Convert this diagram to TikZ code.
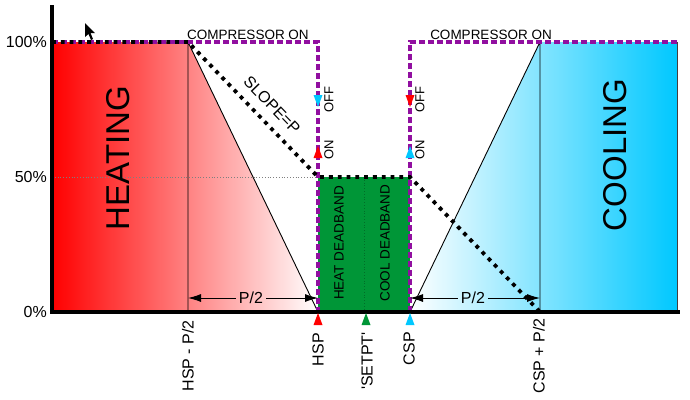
\documentclass[tikz,border=0pt]{standalone}
\usepackage{fontspec}
\setmainfont{Liberation Sans}
\usetikzlibrary{arrows.meta,positioning}
\definecolor{tsred}{RGB}{255,0,0}
\definecolor{tscyan}{RGB}{0,200,255}
\definecolor{tsgreen}{RGB}{0,150,55}
\definecolor{tsdkgreen}{RGB}{0,110,40}
\definecolor{tspurple}{RGB}{145,15,160}
\definecolor{tsgray}{RGB}{127,127,127}
\definecolor{tsdark}{RGB}{70,60,60}
\tikzset{
  purpdash/.style={tspurple,line width=3.2pt,dash pattern=on 6pt off 3pt},
  outdots/.style={black,line width=3.8pt,dash pattern=on 3.8pt off 5pt},
  dimline/.style={line width=0.9pt,-{Latex[length=13pt,width=8pt]}},
  ticklbl/.style={font=\fontsize{16}{18}\selectfont,rotate=90,anchor=east,inner sep=0pt},
  pctlbl/.style={font=\fontsize{16}{18}\selectfont,anchor=east,inner sep=0pt},
  smalllbl/.style={font=\fontsize{13.5}{15}\selectfont,inner sep=0pt},
  onofflbl/.style={font=\fontsize{13}{15}\selectfont,rotate=90,inner sep=0pt},
  biglbl/.style={font=\fontsize{33}{36}\selectfont,rotate=90,inner sep=0pt},
  tipup/.pic={\fill (-4.5,0) -- (4.5,0) -- (0,-12) -- cycle;},
  tipdown/.pic={\fill (-4.5,0) -- (4.5,0) -- (0,12) -- cycle;}
}
\begin{document}
\begin{tikzpicture}[x=1pt,y=-1pt]
  \useasboundingbox (0,0) rectangle (690,399);
  % key points
  \coordinate (org) at (52,312);
  \coordinate (axtop) at (52,5);
  \coordinate (axend) at (680,312);
  \coordinate (full) at (52,42);
  \coordinate (hhi) at (188,42);
  \coordinate (hlo) at (188,312);
  \coordinate (hsptop) at (318,42);
  \coordinate (hsp) at (318,312);
  \coordinate (dbl) at (318,177);
  \coordinate (dbr) at (410,177);
  \coordinate (csptop) at (410,42);
  \coordinate (csp) at (410,312);
  \coordinate (chi) at (540,42);
  \coordinate (clo) at (540,312);
  \coordinate (rtop) at (677,42);
  \coordinate (rbot) at (677,312);
  \coordinate (half) at (52,177);
  % heating and cooling areas
  \shade[left color=tsred,right color=white] (full) -- (hhi) -- (hsp) -- (org) -- cycle;
  \shade[left color=white,right color=tscyan] (csp) -- (chi) -- (rtop) -- (rbot) -- cycle;
  \draw[line width=0.9pt] (hhi) -- (hlo) (hhi) -- (hsp);
  \draw[line width=0.9pt] (chi) -- (clo) (chi) -- (csp);
  \draw[tsdark,line width=1pt] (rtop) -- (rbot);
  % deadband
  \fill[tsgreen] (dbl) rectangle (csp);
  \draw[tsdkgreen,line width=0.8pt,dotted] (364,177) -- (364,312);
  \draw[tsgray,line width=0.8pt,dotted] (half) -- (dbl);
  % compressor and output lines
  \draw[purpdash] (full) -- (hsptop) -- (hsp);
  \draw[purpdash] (csp) -- (csptop) -- (rtop);
  \draw[outdots] (full) -- (hhi) -- (dbl) -- (dbr) -- (clo);
  % axes
  \draw[line width=4.5pt] (axtop) -- (org) -- (axend);
  % markers
  \pic[tsred] at (318,325) {tipup};
  \pic[tsgreen] at (366,325) {tipup};
  \pic[tscyan] at (410,325) {tipup};
  \pic[tscyan] at (318,95) {tipdown};
  \pic[tsred] at (318,158) {tipup};
  \pic[tsred] at (410,95) {tipdown};
  \pic[tscyan] at (410,158) {tipup};
  % dimensions
  \node[font=\fontsize{16}{18}\selectfont,inner sep=3pt] (p2l) at (251,298) {P/2};
  \node[font=\fontsize{16}{18}\selectfont,inner sep=3pt] (p2r) at (473,298) {P/2};
  \draw[dimline] (p2l.west) -- (hlo |- p2l);
  \draw[dimline] (p2l.east) -- (hsp |- p2l);
  \draw[dimline] (p2r.west) -- (csp |- p2r);
  \draw[dimline] (p2r.east) -- (clo |- p2r);
  % labels
  \node[pctlbl] (p100) at (47,42) {100\%};
  \node[pctlbl] (p50) at (47,177) {50\%};
  \node[pctlbl] (p0) at (47,312) {0\%};
  \node[ticklbl] (thlo) at (188,320) {HSP - P/2};
  \node[ticklbl] (thsp) at (318,333) {HSP};
  \node[ticklbl] (tset) at (367,332) {\textquotesingle SETPT\textquotesingle};
  \node[ticklbl] (tcsp) at (409,332) {CSP};
  \node[ticklbl] (tclo) at (539,318) {CSP + P/2};
  \node[smalllbl] (cmpl) at (248,35) {COMPRESSOR ON};
  \node[smalllbl] (cmpr) at (491,35) {COMPRESSOR ON};
  \node[smalllbl,rotate=90] (hdb) at (339,243) {HEAT DEADBAND};
  \node[smalllbl,rotate=90] (cdb) at (385,243) {COOL DEADBAND};
  \node[onofflbl] (offl) at (329,100) {OFF};
  \node[onofflbl] (onl) at (329,150) {ON};
  \node[onofflbl] (offr) at (420,100) {OFF};
  \node[onofflbl] (onr) at (420,150) {ON};
  \node[font=\fontsize{16}{18}\selectfont,rotate=-46,inner sep=0pt] (slope) at (272,105) {SLOPE=P};
  \node[biglbl] (heat) at (118,158) {HEATING};
  \node[biglbl] (cool) at (615,155) {COOLING};
  % pointer
  \fill (85,23) -- (85,37) -- (88.5,34) -- (91,40) -- (93,39) -- (90.5,33) -- (95,33) -- cycle;
\end{tikzpicture}
\end{document}
